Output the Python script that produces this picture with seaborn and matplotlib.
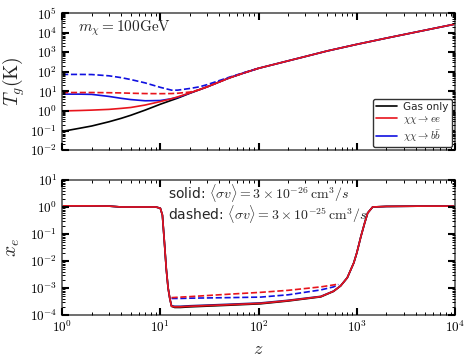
import numpy as np
import matplotlib
matplotlib.use("Agg")
import matplotlib.pyplot as plt
import seaborn as sns
from matplotlib.ticker import LogLocator, FuncFormatter, NullFormatter
from matplotlib.lines import Line2D

# redshift grid for the temperature panel
z_T = [1, 1.5, 2, 3, 4, 5, 7, 10, 13, 15, 20, 30, 50, 70, 100, 150, 200, 300, 500, 1000, 2000, 5000, 10000]
T_gas = [0.09, 0.13, 0.17, 0.28, 0.42, 0.6, 1.1, 2.2, 3.5, 4.5, 8, 17, 48, 85, 150, 250, 360, 600, 1150, 2500, 5200, 13300, 27000]
T_ee = [1.0, 1.05, 1.1, 1.2, 1.35, 1.5, 2.0, 3.0, 4.2, 5.2, 8.3, 17, 48, 85, 150, 250, 360, 600, 1150, 2500, 5200, 13300, 27000]
T_bb = [7.2, 7.2, 7.0, 5.5, 4.4, 3.8, 3.3, 3.4, 4.2, 4.9, 8.2, 17, 48, 85, 150, 250, 360, 600, 1150, 2500, 5200, 13300, 27000]

z_Td = [1, 1.5, 2, 3, 4, 5, 7, 10, 13, 15, 20, 25, 30, 50, 70, 100]
T_ee_d = [8.7, 8.7, 8.7, 8.5, 8.3, 8.0, 7.7, 7.6, 7.7, 8.0, 9.2, 12, 17, 48, 85, 150]
T_bb_d = [73, 73, 72, 62, 50, 40, 27, 16, 11.5, 11.5, 14, 17, 22, 52, 88, 150]

# ionization fraction panel
z_x = [1, 2, 3, 4, 6, 9, 10, 10.5, 11, 11.5, 12, 12.5, 13, 14, 16, 20, 50, 105, 200, 430, 580, 684, 800, 931, 1000, 1100, 1200, 1290, 1450, 2000, 5000, 10000]
x_gas = [1.1, 1.1, 1.08, 1.0, 1.0, 1.0, 0.9, 0.5, 0.05, 0.005, 0.001, 4e-4, 2.1e-4, 1.9e-4, 1.9e-4, 2.0e-4, 2.3e-4, 2.6e-4, 3.3e-4, 4.7e-4, 7.5e-4, 1.2e-3, 2.4e-3, 8.5e-3, 0.02, 0.08, 0.25, 0.6, 1.0, 1.05, 1.08, 1.08]
x_ee = [1.1, 1.1, 1.08, 1.0, 1.0, 1.0, 0.9, 0.5, 0.05, 0.005, 0.001, 4e-4, 2.1e-4, 2.0e-4, 2.0e-4, 2.1e-4, 2.4e-4, 2.7e-4, 3.4e-4, 4.8e-4, 7.6e-4, 1.2e-3, 2.4e-3, 8.5e-3, 0.02, 0.08, 0.25, 0.6, 1.0, 1.05, 1.08, 1.08]
x_bb = [1.1, 1.1, 1.08, 1.0, 1.0, 1.0, 0.9, 0.5, 0.05, 0.005, 0.001, 4e-4, 2.2e-4, 2.1e-4, 2.1e-4, 2.2e-4, 2.5e-4, 2.8e-4, 3.5e-4, 4.9e-4, 7.7e-4, 1.2e-3, 2.4e-3, 8.5e-3, 0.02, 0.08, 0.25, 0.6, 1.0, 1.05, 1.08, 1.08]

z_xd = [13, 16, 20, 50, 105, 200, 430, 580, 650]
x_ee_d = [4.4e-4, 4.6e-4, 4.8e-4, 5.9e-4, 6.9e-4, 8.2e-4, 1.1e-3, 1.3e-3, 1.4e-3]
x_bb_d = [4.1e-4, 4.1e-4, 4.2e-4, 4.4e-4, 4.6e-4, 5.6e-4, 8.5e-4, 1.1e-3, 1.35e-3]

sns.set_style("ticks")
plt.rcParams['font.family'] = ['DejaVu Sans']
plt.rcParams['mathtext.fontset'] = 'cm'
plt.rcParams.update({
    'axes.axisbelow': False,
    'xtick.direction': 'in', 'ytick.direction': 'in',
    'xtick.top': True, 'ytick.right': True,
    'xtick.major.size': 5, 'ytick.major.size': 5,
    'xtick.minor.size': 2.5, 'ytick.minor.size': 2.5,
    'xtick.major.width': 1.5, 'ytick.major.width': 1.5,
    'xtick.minor.width': 0.7, 'ytick.minor.width': 0.7,
    'xtick.color': 'black', 'ytick.color': 'black',
})

fig = plt.figure(figsize=(4.74, 3.6), dpi=100)
ax1 = fig.add_axes([0.131, 0.583, 0.829, 0.381])
ax2 = fig.add_axes([0.131, 0.125, 0.829, 0.375])

blk, red, blu = 'black', '#e8141c', '#1010e0'
lw = 1.2

sns.lineplot(x=z_T, y=T_gas, ax=ax1, color=blk, lw=lw, sort=False)
sns.lineplot(x=z_T, y=T_bb, ax=ax1, color=blu, lw=lw, sort=False)
sns.lineplot(x=z_T, y=T_ee, ax=ax1, color=red, lw=lw, sort=False)
sns.lineplot(x=z_Td, y=T_bb_d, ax=ax1, color=blu, lw=lw, ls='--', sort=False)
sns.lineplot(x=z_Td, y=T_ee_d, ax=ax1, color=red, lw=lw, ls='--', sort=False)

sns.lineplot(x=z_x, y=x_gas, ax=ax2, color=blk, lw=lw, sort=False)
sns.lineplot(x=z_x, y=x_bb, ax=ax2, color='#101080', lw=lw, sort=False)
sns.lineplot(x=z_x, y=x_ee, ax=ax2, color=red, lw=lw, sort=False)
sns.lineplot(x=z_xd, y=x_bb_d, ax=ax2, color=blu, lw=lw, ls='--', sort=False)
sns.lineplot(x=z_xd, y=x_ee_d, ax=ax2, color=red, lw=lw, ls='--', sort=False)

sciformat = FuncFormatter(lambda v, p: r'$\mathsf{10^{%d}}$' % round(np.log10(v)))

for ax, lo, hi in [(ax1, 1e-2, 1e5), (ax2, 1e-4, 1e1)]:
    ax.set_xscale('log')
    ax.set_yscale('log')
    ax.set_xlim(1, 1e4)
    ax.set_ylim(lo, hi)
    ax.set_axisbelow(False)
    ax.yaxis.set_major_locator(LogLocator(base=10, numticks=12))
    ax.yaxis.set_minor_locator(LogLocator(base=10, subs=np.arange(2, 10), numticks=12))
    ax.yaxis.set_major_formatter(sciformat)
    ax.yaxis.set_minor_formatter(NullFormatter())
    ax.xaxis.set_tick_params(which='both', direction='in', top=True, bottom=True, color='black')
    ax.yaxis.set_tick_params(which='both', direction='in', left=True, right=True, color='black')
    ax.tick_params(which='major', length=5, width=1.5, labelsize=9.5)
    ax.tick_params(which='minor', length=2.5, width=0.7)
    for s in ax.spines.values():
        s.set_color('#555555')
        s.set_linewidth(1.2)

ax1.tick_params(axis='x', which='both', labelbottom=False)
ax2.xaxis.set_major_formatter(sciformat)

ax1.set_ylabel(r'$T_g(\mathrm{K})$', fontsize=14, labelpad=2)
ax2.set_ylabel(r'$x_e$', fontsize=14, labelpad=6)
ax2.set_xlabel(r'$z$', fontsize=13, labelpad=3)

ax1.text(0.04, 0.89, r'$m_\chi = 100\mathrm{GeV}$', transform=ax1.transAxes, fontsize=11, va='center')
ax2.text(0.27, 0.9, r'solid: $\langle\sigma v\rangle = 3\times10^{-26}\,\mathrm{cm}^3/s$',
         transform=ax2.transAxes, fontsize=10, va='center')
ax2.text(0.27, 0.75, r'dashed: $\langle\sigma v\rangle = 3\times10^{-25}\,\mathrm{cm}^3/s$',
         transform=ax2.transAxes, fontsize=10, va='center')

handles = [Line2D([], [], color=blk, lw=lw), Line2D([], [], color=red, lw=lw), Line2D([], [], color=blu, lw=lw)]
labels = ['Gas only', r'$\chi\chi\rightarrow ee$', r'$\chi\chi\rightarrow b\bar{b}$']
leg = ax1.legend(handles, labels, loc='lower right', fontsize=7.5, frameon=True, fancybox=True,
                 handlelength=2.0, borderpad=0.3, labelspacing=0.2, borderaxespad=0.3, handletextpad=0.6)
leg.get_frame().set_edgecolor('#333333')
leg.get_frame().set_linewidth(1.0)
leg.get_frame().set_alpha(1)

fig.savefig('out.png', dpi=100)
